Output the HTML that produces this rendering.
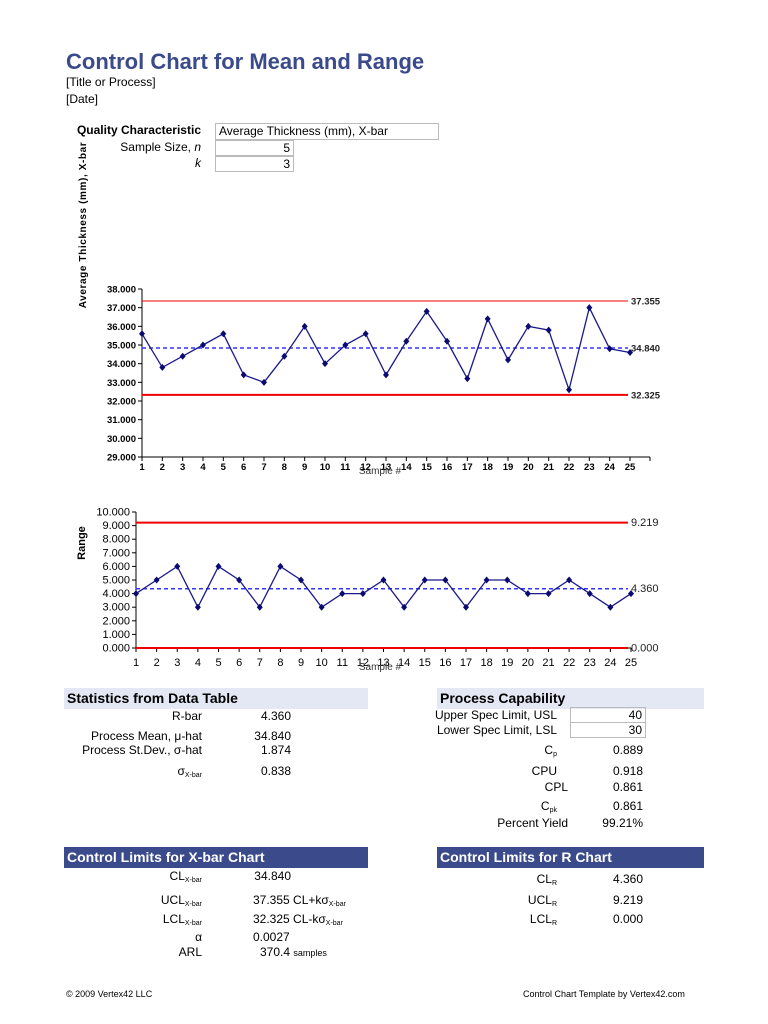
<!DOCTYPE html>
<html><head><meta charset="utf-8"><style>
body{margin:0;background:#fff;font-family:"Liberation Sans",sans-serif;color:#000}
#page{position:relative;width:768px;height:1024px;overflow:hidden}
.t{position:absolute;font-size:12px;white-space:nowrap;line-height:14px}
.r{text-align:right}
.box{position:absolute;border:1px solid #bbb;font-size:12px;line-height:15px;box-sizing:border-box;padding:0 3px}
.hl{position:absolute;height:21px;font-weight:bold;font-size:14px;line-height:21px;padding-left:3px;box-sizing:border-box}
.light{background:#e4e8f4;color:#000}
.dark{background:#3a4a8a;color:#fff}
sub{font-size:7px;vertical-align:-2px}
</style></head><body><div id="page">
<div class="t" style="left:66px;top:49px;font-size:22px;line-height:26px;font-weight:bold;color:#3a4a8a">Control Chart for Mean and Range</div>
<div class="t" style="left:66px;top:75px">[Title or Process]</div>
<div class="t" style="left:66px;top:92px">[Date]</div>
<div class="t r" style="left:40px;width:161px;top:123px;font-weight:bold">Quality Characteristic</div>
<div class="box" style="left:215px;top:123px;width:224px;height:17px">Average Thickness (mm), X-bar</div>
<div class="t r" style="left:40px;width:161px;top:140px">Sample Size, <i>n</i></div>
<div class="box r" style="left:215px;top:140px;width:79px;height:16px">5</div>
<div class="t r" style="left:40px;width:161px;top:156px"><i>k</i></div>
<div class="box r" style="left:215px;top:156px;width:79px;height:16px">3</div>

<svg id="chart" width="768" height="680" style="position:absolute;left:0;top:0" font-family="Liberation Sans, sans-serif"></svg>

<div class="hl light" style="left:64px;top:688px;width:304px">Statistics from Data Table</div>
<div class="hl light" style="left:437px;top:688px;width:267px">Process Capability</div>
<div class="t r" style="left:60px;width:142px;top:709px">R-bar</div>
<div class="t r" style="left:220px;width:71px;top:709px">4.360</div>
<div class="t r" style="left:60px;width:142px;top:729px">Process Mean, μ-hat</div>
<div class="t r" style="left:220px;width:71px;top:729px">34.840</div>
<div class="t r" style="left:60px;width:142px;top:743px">Process St.Dev., σ-hat</div>
<div class="t r" style="left:220px;width:71px;top:743px">1.874</div>
<div class="t r" style="left:60px;width:142px;top:764px">σ<sub>X-bar</sub></div>
<div class="t r" style="left:220px;width:71px;top:764px">0.838</div>

<div class="t r" style="left:400px;width:157px;top:708px">Upper Spec Limit, USL</div>
<div class="box r" style="left:570px;top:707px;width:76px;height:16px">40</div>
<div class="t r" style="left:400px;width:157px;top:723px">Lower Spec Limit, LSL</div>
<div class="box r" style="left:570px;top:722px;width:76px;height:16px">30</div>
<div class="t r" style="left:450px;width:107px;top:743px">C<sub>p</sub></div>
<div class="t r" style="left:580px;width:63px;top:743px">0.889</div>
<div class="t r" style="left:450px;width:107px;top:764px">CPU</div>
<div class="t r" style="left:580px;width:63px;top:764px">0.918</div>
<div class="t r" style="left:450px;width:118px;top:780px">CPL</div>
<div class="t r" style="left:580px;width:63px;top:780px">0.861</div>
<div class="t r" style="left:450px;width:107px;top:799px">C<sub>pk</sub></div>
<div class="t r" style="left:580px;width:63px;top:799px">0.861</div>
<div class="t r" style="left:450px;width:118px;top:816px">Percent Yield</div>
<div class="t r" style="left:580px;width:63px;top:816px">99.21%</div>

<div class="hl dark" style="left:64px;top:847px;width:304px">Control Limits for X-bar Chart</div>
<div class="hl dark" style="left:437px;top:847px;width:267px">Control Limits for R Chart</div>
<div class="t r" style="left:60px;width:142px;top:869px">CL<sub>X-bar</sub></div>
<div class="t r" style="left:220px;width:71px;top:869px">34.840</div>
<div class="t r" style="left:60px;width:142px;top:893px">UCL<sub>X-bar</sub></div>
<div class="t" style="left:253px;top:893px">37.355 CL+kσ<sub>X-bar</sub></div>
<div class="t r" style="left:60px;width:142px;top:912px">LCL<sub>X-bar</sub></div>
<div class="t" style="left:253px;top:912px">32.325 CL-kσ<sub>X-bar</sub></div>
<div class="t r" style="left:60px;width:142px;top:930px">α</div>
<div class="t" style="left:253px;top:930px">0.0027</div>
<div class="t r" style="left:60px;width:142px;top:945px">ARL</div>
<div class="t" style="left:260px;top:945px">370.4 <span style="font-size:9px">samples</span></div>

<div class="t r" style="left:450px;width:107px;top:872px">CL<sub>R</sub></div>
<div class="t r" style="left:580px;width:63px;top:872px">4.360</div>
<div class="t r" style="left:450px;width:107px;top:893px">UCL<sub>R</sub></div>
<div class="t r" style="left:580px;width:63px;top:893px">9.219</div>
<div class="t r" style="left:450px;width:107px;top:912px">LCL<sub>R</sub></div>
<div class="t r" style="left:580px;width:63px;top:912px">0.000</div>

<div class="t" style="left:66px;top:987px;font-size:9px">© 2009 Vertex42 LLC</div>
<div class="t" style="left:523px;top:987px;font-size:9px">Control Chart Template by Vertex42.com</div>
</div>
<script>
const samples=[1,2,3,4,5,6,7,8,9,10,11,12,13,14,15,16,17,18,19,20,21,22,23,24,25];
const xbarValues=[35.6,33.8,34.4,35.0,35.6,33.4,33.0,34.4,36.0,34.0,35.0,35.6,33.4,35.2,36.8,35.2,33.2,36.4,34.2,36.0,35.8,32.6,37.0,34.8,34.6];
const rangeValues=[4,5,6,3,6,5,3,6,5,3,4,4,5,3,5,5,3,5,5,4,4,5,4,3,4];
const xbarLimits=[37.355,34.840,32.325];
const rLimits=[9.219,4.360,0.000];
const xbarTicks=[29,30,31,32,33,34,35,36,37,38];
const rTicks=[0,1,2,3,4,5,6,7,8,9,10];
const NS="http://www.w3.org/2000/svg";
const svg=document.getElementById('chart');
function mk(tag,attrs,parent){const e=document.createElementNS(NS,tag);for(const k in attrs)e.setAttribute(k,attrs[k]);(parent||svg).appendChild(e);return e;}
function drawChart(o){
  const g=mk('g',{});
  
  
  const xs=i=>o.x0+(i-1)*(o.x1-o.x0)/24;
  const ys=v=>o.yTop+(o.vmax-v)*(o.yBot-o.yTop)/(o.vmax-o.vmin);
  const ax=mk('path',{d:`M${o.axL} ${o.yTop}V${o.yBot}H${o.axR}`,stroke:'#000',fill:'none','stroke-width':1},g);
  
  
  o.ticks.forEach(t=>{const y=ys(t);
    mk('line',{x1:o.axL-4,x2:o.axL,y1:y,y2:y,stroke:'#000'},g);
    const tx=mk('text',{x:o.axL-6,y:y+3.5,'font-size':o.tfs,'text-anchor':'end','font-weight':o.tfw},g);tx.textContent=t.toFixed(3);
    
    });
  samples.forEach(s=>{const x=xs(s);
    mk('line',{x1:x,x2:x,y1:o.yBot,y2:o.yBot+4,stroke:'#000'},g);
    const tx=mk('text',{x:x,y:o.yBot+o.lblDy,'font-size':o.xfs,'text-anchor':'middle','font-weight':o.tfw},g);tx.textContent=s;
    
    });
  mk('line',{x1:o.axR,x2:o.axR,y1:o.yBot,y2:o.yBot+4,stroke:'#000'},g);
  const xt=mk('text',{x:380,y:o.yBot+o.lblDy+4,'font-size':10,'text-anchor':'middle',fill:'#333'},g);xt.textContent='Sample #';
  
  
  const yt=mk('text',{x:0,y:0,'font-size':o.ytfs,'font-weight':'bold','text-anchor':'middle','letter-spacing':o.yls,transform:`translate(${o.ytx},${o.yty}) rotate(-90)`},g);yt.textContent=o.ytitle;
  
  
  o.limits.forEach((v,i)=>{const y=ys(v);
    const ln=mk('line',{x1:o.axL,x2:o.lineEnd,y1:y,y2:y,stroke:i==1?'#3333ff':'#ee0000','stroke-width':i==1?1.5:o.lw[i],'stroke-dasharray':i==1?'4,3':'none'},g);
    
    
    const tx=mk('text',{x:o.lineEnd+3,y:y+3.5,'font-size':o.lfs,'font-weight':o.tfw,fill:'#222'},g);tx.textContent=v.toFixed(3);
    
    });
  const d=o.values.map((v,i)=>(i?'L':'M')+xs(samples[i])+' '+ys(v)).join('');
  const p=mk('path',{d:d,stroke:'#1a1a8c',fill:'none','stroke-width':1.3},g);
  
  
  o.values.forEach((v,i)=>{const x=xs(samples[i]),y=ys(v);
    const m=mk('path',{d:`M${x} ${y-3.5}L${x+3} ${y}L${x} ${y+3.5}L${x-3} ${y}Z`,fill:'#0a0a70'},g);
    
    });
}
drawChart({name:'xbar-chart',values:xbarValues,limits:xbarLimits,ticks:xbarTicks,vmin:29,vmax:38,yTop:289,yBot:457,x0:142,x1:630,axL:142,axR:650,lineEnd:628,tfs:9.5,xfs:9.5,tfw:'bold',lfs:9.5,lblDy:13,ytitle:'Average Thickness (mm), X-bar',ytfs:10,yls:0.6,ytx:86,yty:225,lw:[1,2,2]});
drawChart({name:'range-chart',values:rangeValues,limits:rLimits,ticks:rTicks,vmin:0,vmax:10,yTop:512,yBot:648,x0:136,x1:631,axL:136,axR:631,lineEnd:628,tfs:11,xfs:11,tfw:'normal',lfs:11,lblDy:18,ytitle:'Range',ytfs:11,yls:0,ytx:85,yty:543,lw:[2,2,2]});
</script>
</body></html>
